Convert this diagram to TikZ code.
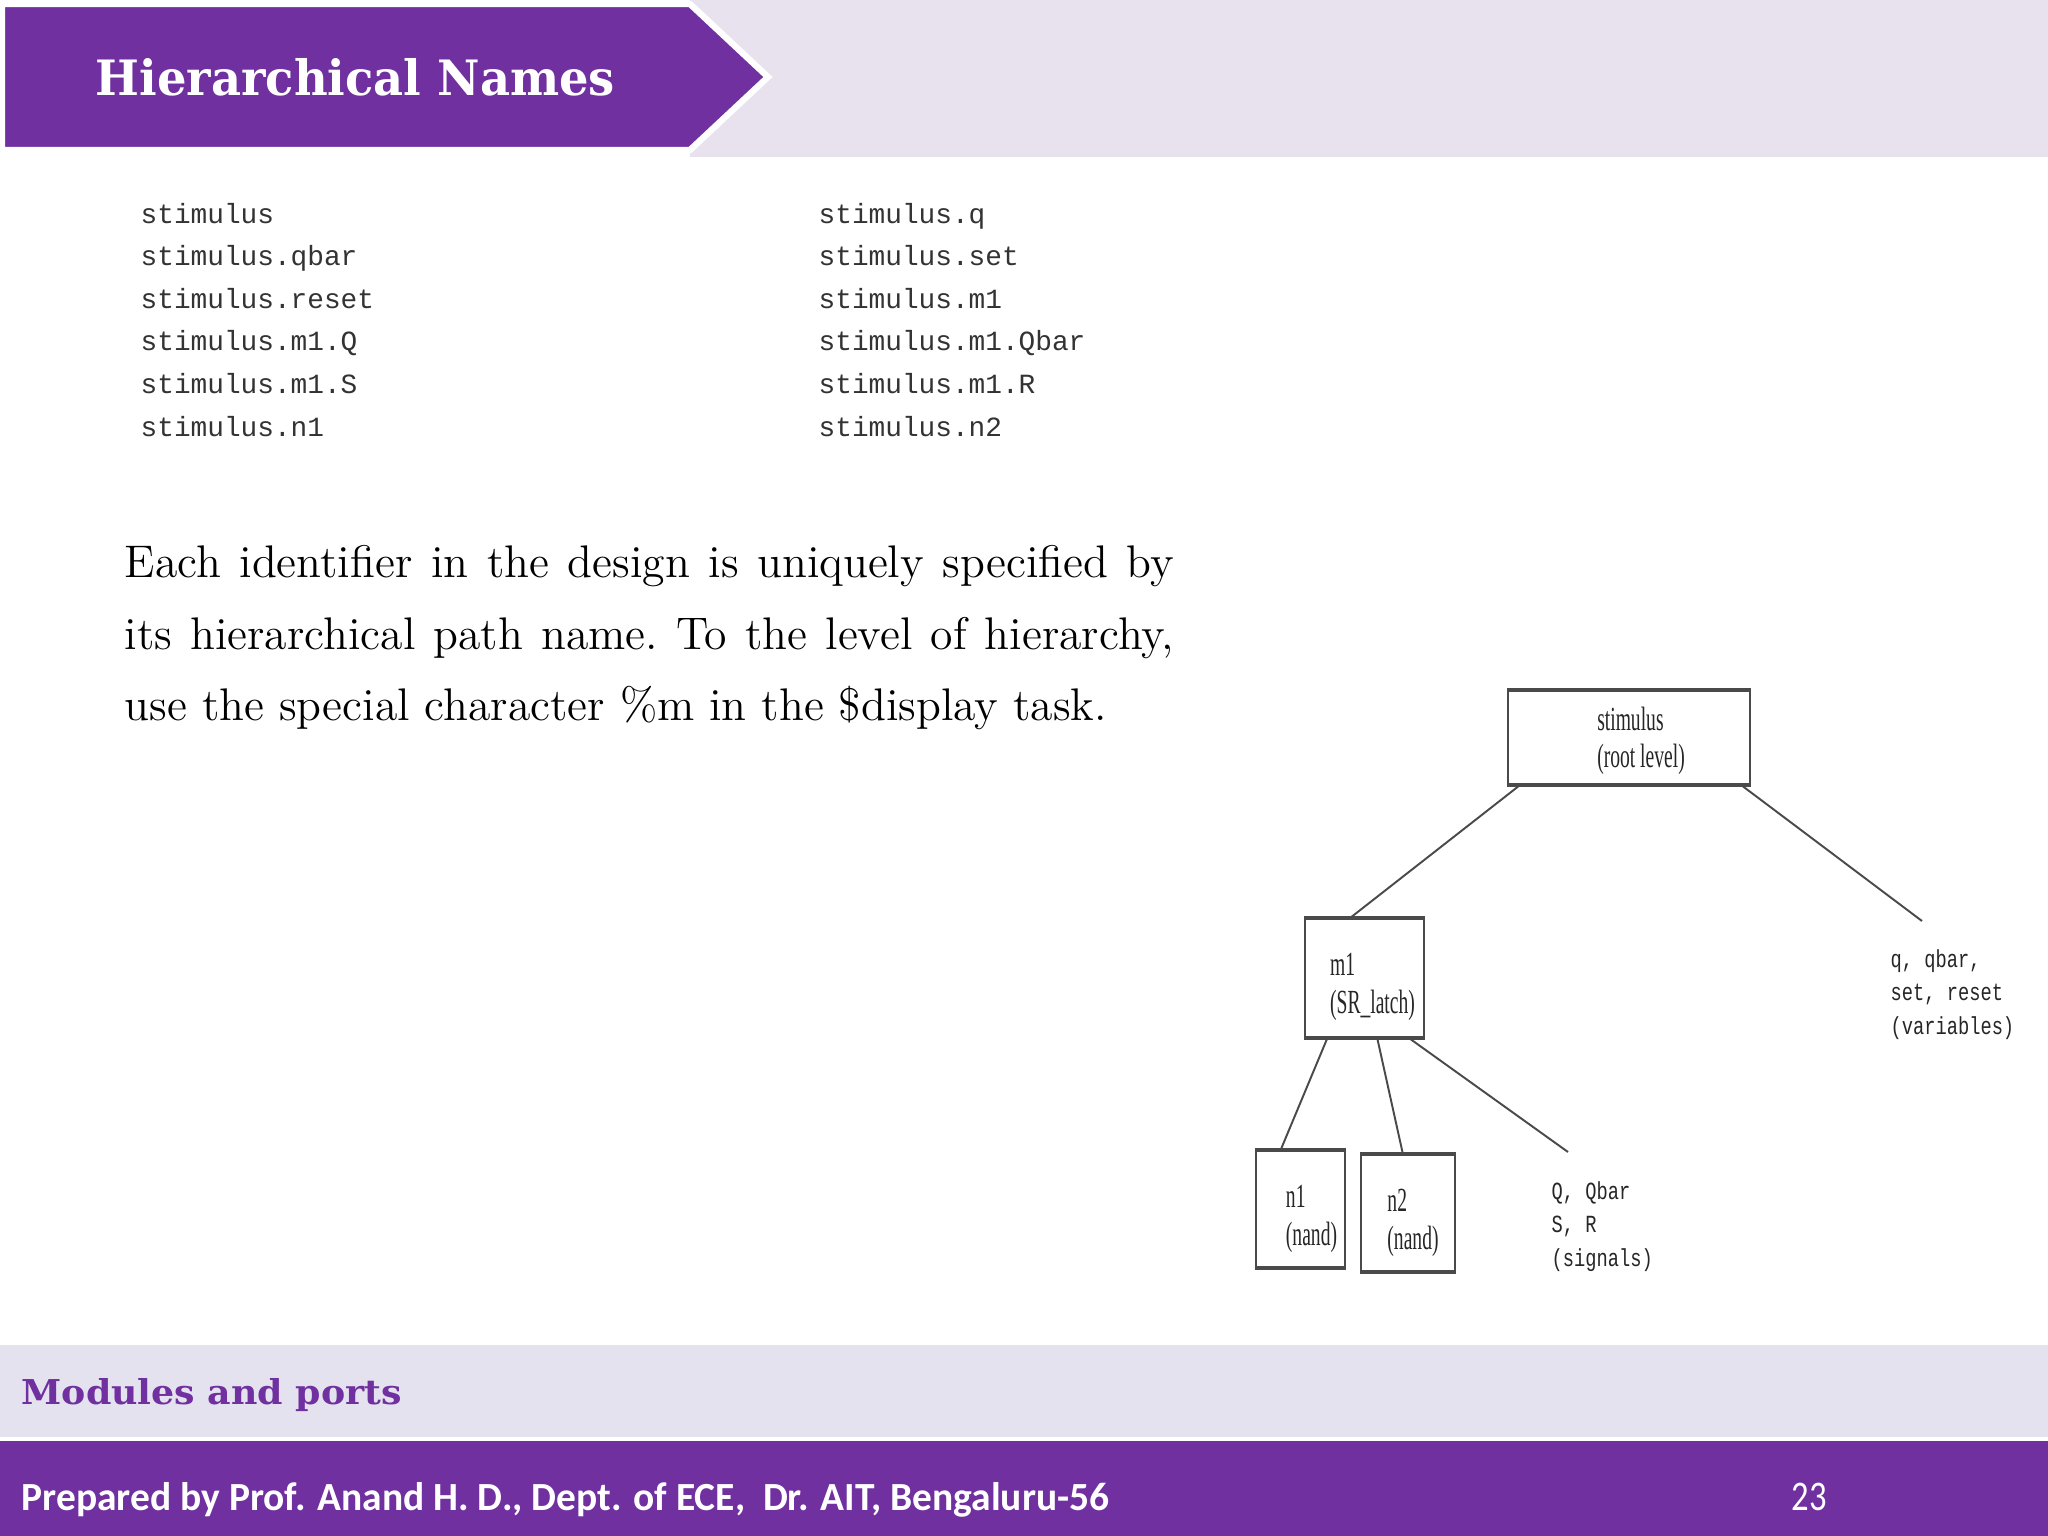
\documentclass[tikz,border=0pt]{standalone}
\usepackage{fontspec}
\usepackage{graphicx}
\usetikzlibrary{calc}
\newfontfamily\codefont{Liberation Mono}
\newfontfamily\figfont{Liberation Serif}
\newfontfamily\footfont{Carlito}
\newfontfamily\slabfont{DejaVu Serif}
\definecolor{slidepurple}{HTML}{7030A0}
\definecolor{headlav}{HTML}{E8E1EE}
\definecolor{footlav}{HTML}{E4E2EE}
\definecolor{treegray}{HTML}{4A4A4A}
\definecolor{codegray}{HTML}{333333}
\newcommand{\boxlines}[1]{\scalebox{0.58}[1]{\figfont\fontsize{9.6pt}{10.6pt}\selectfont\begin{tabular}{@{}l@{}}#1\end{tabular}}}
\newcommand{\monolines}[1]{\scalebox{0.76}[1]{\codefont\fontsize{7pt}{9.5pt}\selectfont\begin{tabular}{@{}l@{}}#1\end{tabular}}}
\begin{document}
\begin{tikzpicture}[x=0.01cm,y=-0.01cm,
  codeline/.style={anchor=base west, inner sep=0, text=codegray, font=\codefont\fontsize{7.9pt}{9pt}\selectfont},
  paraline/.style={anchor=base west, inner sep=0, font=\frenchspacing\fontsize{13pt}{15pt}\selectfont},
  treebox/.style={draw=treegray, line width=0.45pt, inner sep=0, fill=white},
  boxtext/.style={inner sep=0, text=black!85},
  treeline/.style={draw=treegray, line width=0.55pt},
  edge/.style={draw=treegray, line width=1.1pt},
  leaflabel/.style={anchor=west, inner sep=0, text=black!85}]
\useasboundingbox (0,0) rectangle (2048,1536);
\fill[white] (0,0) rectangle (2048,1536);
% header
\fill[headlav] (690,0) rectangle (2048,157);
\filldraw[fill=slidepurple, draw=white, line width=1.8pt, line join=miter]
  (2,4) -- (690,4) -- (768,77) -- (690,150) -- (2,150) -- cycle;
\node[anchor=base west, inner sep=0, text=white] (title) at (95,95) {\resizebox{5.19cm}{0.37cm}{\slabfont\bfseries Hierarchical Names}};
% code listing
\foreach \txt [count=\i from 0] in {stimulus, stimulus.qbar, stimulus.reset, stimulus.m1.Q, stimulus.m1.S, stimulus.n1}
  \node[codeline] (cl\i) at (140, 223+42.6*\i) {\txt};
\foreach \txt [count=\i from 0] in {stimulus.q, stimulus.set, stimulus.m1, stimulus.m1.Qbar, stimulus.m1.R, stimulus.n2}
  \node[codeline] (cr\i) at (818, 223+42.6*\i) {\txt};
% paragraph
\node[paraline] (p1) at (124,577) {\makebox[298.4pt][s]{Each identifier in the design is uniquely specified by}};
\node[paraline] (p2) at (124,649) {\makebox[298.4pt][s]{its hierarchical path name. To the level of hierarchy,}};
\node[paraline] (p3) at (124,720) {use the special character \%m in the \$display task.};
% tree boxes
\node[treebox, minimum width=2.42cm, minimum height=0.93cm] (root) at (1629,737.5) {};
\node[treebox, minimum width=1.19cm, minimum height=1.18cm] (m1) at (1364.5,978) {};
\node[treebox, minimum width=0.89cm, minimum height=1.16cm] (n1) at (1300.5,1209) {};
\node[treebox, minimum width=0.94cm, minimum height=1.16cm] (n2) at (1408,1213) {};
\foreach \b in {root,m1,n1,n2}{
  \draw[edge] (\b.north west) -- (\b.north east);
  \draw[edge] (\b.south west) -- (\b.south east);
}
\node[boxtext] (rootT) at ($(root.center)+(12,4)$) {\boxlines{stimulus\\(root level)}};
\node[boxtext] (m1T) at ($(m1.center)+(8,9)$) {\boxlines{m1\\(SR\_latch)}};
\node[boxtext] (n1T) at ($(n1.center)+(11,10)$) {\boxlines{n1\\(nand)}};
\node[boxtext] (n2T) at ($(n2.center)+(5,10)$) {\boxlines{n2\\(nand)}};
\node[leaflabel] (vars) at (1890,994) {\monolines{q, qbar,\\set, reset\\(variables)}};
\node[leaflabel] (sigs) at (1551,1226) {\monolines{Q, Qbar\\S, R\\(signals)}};
\coordinate (varsTop) at (1922,921);
\coordinate (sigsTop) at (1568,1152);
\draw[treeline] ($(root.south west)!0.054!(root.south east)$) -- ($(m1.north west)!0.378!(m1.north east)$);
\draw[treeline] ($(root.south west)!0.959!(root.south east)$) -- (varsTop);
\draw[treeline] ($(m1.south west)!0.193!(m1.south east)$) -- ($(n1.north west)!0.28!(n1.north east)$);
\draw[treeline] ($(m1.south west)!0.605!(m1.south east)$) -- ($(n2.north west)!0.447!(n2.north east)$);
\draw[treeline] ($(m1.south west)!0.866!(m1.south east)$) -- (sigsTop);
% footer
\fill[footlav] (0,1345) rectangle (2048,1437);
\fill[slidepurple] (0,1441) rectangle (2048,1536);
\node[anchor=base west, inner sep=0, text=slidepurple] (section) at (21,1404) {\resizebox{3.80cm}{0.26cm}{\slabfont\bfseries Modules and ports}};
\node[anchor=base west, inner sep=0, text=white] (credit) at (21,1510) {\resizebox{10.87cm}{0.28cm}{\footfont\bfseries Prepared by Prof. Anand H. D., Dept. of ECE,\ \ Dr. AIT, Bengaluru-56}};
\node[anchor=base, inner sep=0, text=white] (pagenum) at (1809,1510) {\scalebox{0.82}[1]{\footfont\fontsize{12pt}{14pt}\selectfont 23}};
\end{tikzpicture}
\end{document}
